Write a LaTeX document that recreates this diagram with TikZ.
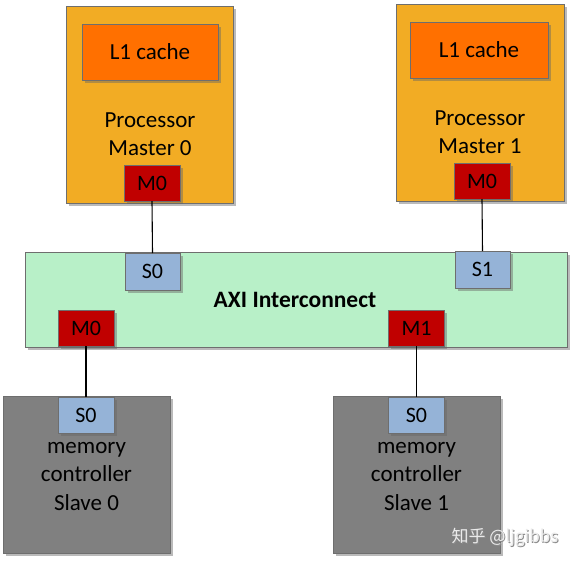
\documentclass[tikz,border=0pt]{standalone}
\usepackage{fontspec}
\setmainfont{Carlito}
\newfontfamily\cjk{Noto Sans CJK SC}
\usetikzlibrary{shadows}
\definecolor{procfill}{RGB}{242,172,36}
\definecolor{cachefill}{RGB}{255,112,0}
\definecolor{mfill}{RGB}{192,0,0}
\definecolor{sfill}{RGB}{149,179,215}
\definecolor{axifill}{RGB}{184,240,200}
\definecolor{slavefill}{RGB}{128,128,128}
\definecolor{edgegray}{RGB}{110,110,110}
\tikzset{
  blk/.style={draw=edgegray, line width=0.6pt, inner sep=0pt, outer sep=0pt,
    drop shadow={shadow xshift=2.5pt, shadow yshift=-2.5pt, opacity=0.45, fill=black!60}},
  procbox/.style={blk, fill=procfill},
  cachebox/.style={blk, fill=cachefill, font=\fontsize{23}{26}\selectfont},
  mport/.style={blk, fill=mfill, minimum width=56, minimum height=36, font=\fontsize{22}{26}\selectfont},
  sport/.style={blk, fill=sfill, minimum width=55, minimum height=37, font=\fontsize{22}{26}\selectfont},
  axibox/.style={blk, fill=axifill},
  slavebox/.style={blk, fill=slavefill},
  lbl/.style={align=center, inner sep=0pt, font=\fontsize{23}{28.5}\selectfont},
  wire/.style={line width=1.1pt, black}
}
\begin{document}
\begin{tikzpicture}[x=1pt,y=-1pt]
\useasboundingbox[fill=white] (0,0) rectangle (576,563);
% processors
\node[procbox, minimum width=167, minimum height=197] (p0) at (149.5,104.5) {};
\node[procbox, minimum width=168, minimum height=197] (p1) at (480,102.5) {};
\node[cachebox, minimum width=136, minimum height=56] (c0) at (150,52) {L1 cache};
\node[cachebox, minimum width=138, minimum height=56] (c1) at (479,50) {L1 cache};
\node[lbl] (t0) at (150,134) {Processor\\Master 0};
\node[lbl] (t1) at (480,132) {Processor\\Master 1};
\node[mport] (pm0) at (152,183) {M0};
\node[mport] (pm1) at (482,181) {M0};
% interconnect
\node[axibox, minimum width=542, minimum height=95] (axi) at (296,299.5) {};
\node[inner sep=0pt, font=\bfseries\fontsize{23.5}{26}\selectfont] (axit) at (295,300) {AXI Interconnect};
\node[sport] (as0) at (152.5,271.5) {S0};
\node[sport] (as1) at (482.5,269.5) {S1};
\node[mport] (am0) at (86,328) {M0};
\node[mport] (am1) at (416.5,328) {M1};
% slaves
\node[slavebox, minimum width=167, minimum height=157] (sl0) at (86.5,474.5) {};
\node[slavebox, minimum width=167, minimum height=157] (sl1) at (416.5,474.5) {};
\node[sport, minimum width=56, minimum height=36] (ss0) at (86,415) {S0};
\node[sport, minimum width=56, minimum height=36] (ss1) at (416.5,415) {S0};
\node[lbl] (st0) at (86.5,476) {memory\\controller\\Slave 0};
\node[lbl] (st1) at (416.5,476) {memory\\controller\\Slave 1};
% wires
\draw[wire] (pm0.south) -- (as0.north);
\draw[wire] (pm1.south) -- (as1.north);
\draw[wire] (am0.south) -- (ss0.north);
\draw[wire] (am1.south) -- (ss1.north);
% watermark
\node[inner sep=0pt, text=black!45, font=\cjk\fontsize{17}{20}\selectfont] (wms) at (506,538) {知乎 @ljgibbs};
\node[inner sep=0pt, text=white!92!black, font=\cjk\fontsize{17}{20}\selectfont] (wm) at (505,537) {知乎 @ljgibbs};
\end{tikzpicture}
\end{document}
